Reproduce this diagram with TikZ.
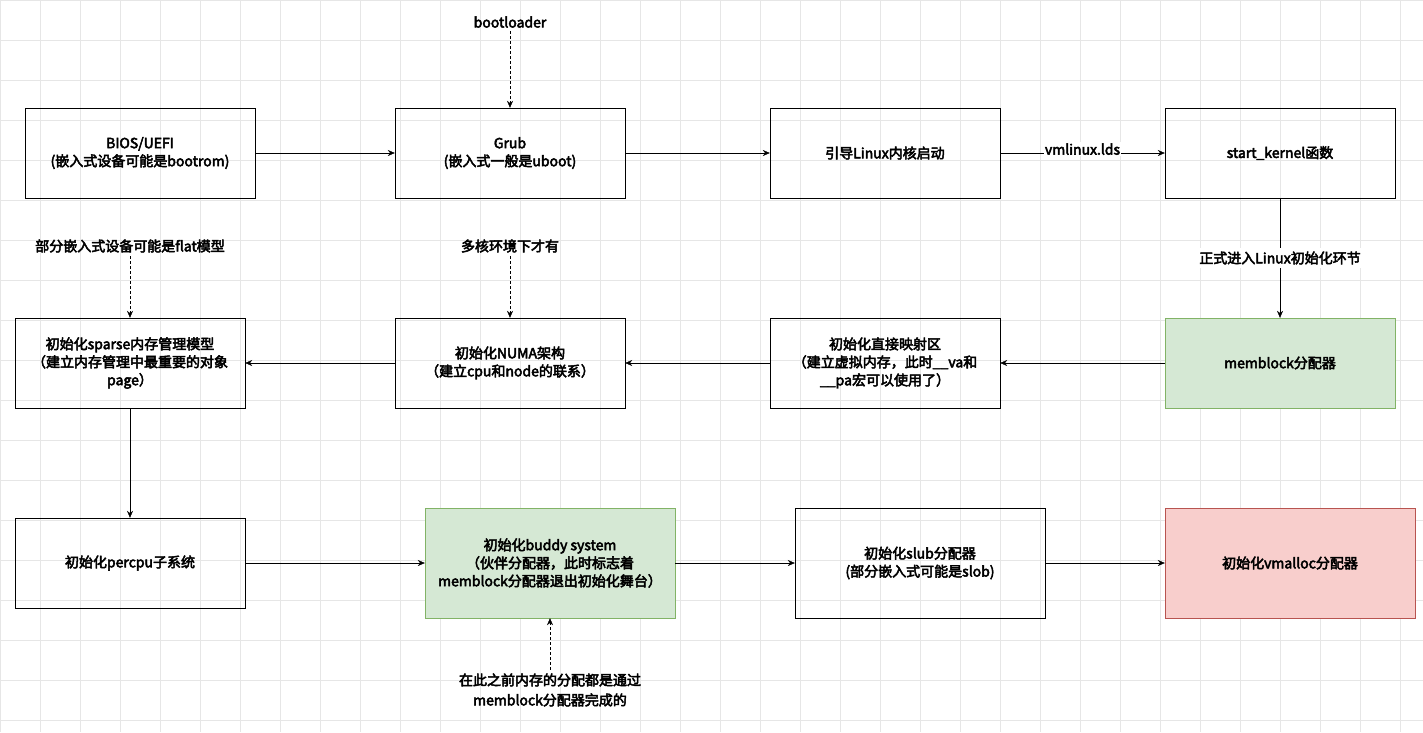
\documentclass[tikz,border=0pt]{standalone}
\usepackage{fontspec}
\setmainfont{Noto Sans CJK SC}[AutoFakeBold=3.5]
\usetikzlibrary{arrows.meta}
\definecolor{gfill}{HTML}{D5E8D4}
\definecolor{gline}{HTML}{82B366}
\definecolor{rfill}{HTML}{F8CECC}
\definecolor{rline}{HTML}{B85450}
\definecolor{gridc}{HTML}{E6E6E6}
\tikzset {
    box/.style = {draw, minimum width = 230pt, minimum height = 90pt, align = center, font = \fontsize{14}{18}\selectfont\bfseries},
    wide box/.style = {box, minimum width = 250pt, minimum height = 110pt},
    green box/.style = {fill = gfill, draw = gline},
    red box/.style = {fill = rfill, draw = rline},
    note/.style = {align = center, font = \fontsize{14}{20}\selectfont\bfseries},
    flow/.style = {-{Stealth[length = 7pt, width = 6pt]}},
    hint/.style = {flow, densely dashed}
}
\begin{document}
\begin{tikzpicture}[x = 1pt, y = -1pt]
            \useasboundingbox (0, 0) rectangle (1423, 732);
            \draw [gridc, very thin] (0, 0) grid [step = 40pt] (1423, 732);
            % first row
            \node (bios) [box] at (140, 153) {BIOS/UEFI\\(嵌入式设备可能是bootrom)};
            \node (grub) [box] at (510, 153) {Grub\\(嵌入式一般是uboot)};
            \node (boot) [box] at (885, 153) {引导Linux内核启动};
            \node (start) [box] at (1280, 153) {start\_kernel函数};
            % second row
            \node (sparse) [box] at (130, 363) {初始化sparse内存管理模型\\（建立内存管理中最重要的对象\\page）};
            \node (numa) [box] at (510, 363) {初始化NUMA架构\\（建立cpu和node的联系）};
            \node (direct) [box] at (885, 363) {初始化直接映射区\\（建立虚拟内存，此时\_\_va和\\\_\_pa宏可以使用了）};
            \node (memblock) [box, green box] at (1280, 363) {memblock分配器};
            % third row
            \node (percpu) [box] at (130, 563) {初始化percpu子系统};
            \node (buddy) [wide box, green box] at (550, 563) {初始化buddy system\\（伙伴分配器，此时标志着\\memblock分配器退出初始化舞台）};
            \node (slub) [wide box] at (920, 563) {初始化slub分配器\\(部分嵌入式可能是slob)};
            \node (vmalloc) [wide box, red box] at (1290, 563) {初始化vmalloc分配器};
            % notes
            \node (nboot) [note] at (510, 22) {bootloader};
            \node (nflat) [note] at (130, 246) {部分嵌入式设备可能是flat模型};
            \node (nmulti) [note] at (510, 246) {多核环境下才有};
            \node (nmem) [note] at (550, 690) {在此之前内存的分配都是通过\\memblock分配器完成的};
            % connectors
            \draw [flow] (bios) -- (grub);
            \draw [flow] (grub) -- (boot);
            \draw [flow] (boot) -- node [note, above = -3pt, fill = white, inner sep = 1pt] {vmlinux.lds} (start);
            \draw [flow] (start) -- node [note, fill = white, pos = .5] {正式进入Linux初始化环节} (memblock);
            \draw [flow] (memblock) -- (direct);
            \draw [flow] (direct) -- (numa);
            \draw [flow] (numa) -- (sparse);
            \draw [flow] (sparse) -- (percpu);
            \draw [flow] (percpu) -- (buddy);
            \draw [flow] (buddy) -- (slub);
            \draw [flow] (slub) -- (vmalloc);
            \draw [hint] (nboot) -- (grub);
            \draw [hint] (nflat) -- (sparse);
            \draw [hint] (nmulti) -- (numa);
            \draw [hint] (nmem) -- (buddy);
        \end{tikzpicture}
\end{document}
